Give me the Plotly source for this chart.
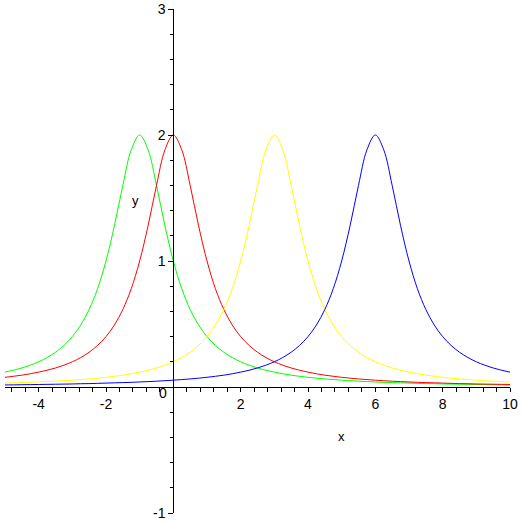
import plotly.graph_objects as go

# sample positions along x (step 0.25 from -5 to 10)
x_vals = [i / 4 for i in range(-20, 41)]

# curve heights at those positions
green_y = [0.118, 0.133, 0.151, 0.173, 0.200, 0.234, 0.276, 0.330, 0.400, 0.492,
           0.615, 0.780, 1.000, 1.280, 1.600, 1.882, 2.000, 1.882, 1.600, 1.280,
           1.000, 0.780, 0.615, 0.492, 0.400, 0.330, 0.276, 0.234, 0.200, 0.173,
           0.151, 0.133, 0.118, 0.105, 0.094, 0.085, 0.077, 0.070, 0.064, 0.059,
           0.054, 0.050, 0.046, 0.043, 0.040, 0.037, 0.035, 0.033, 0.031, 0.029,
           0.027, 0.026, 0.024, 0.023, 0.022, 0.021, 0.020, 0.019, 0.018, 0.017,
           0.016]
red_y = [0.077, 0.085, 0.094, 0.105, 0.118, 0.133, 0.151, 0.173, 0.200, 0.234,
         0.276, 0.330, 0.400, 0.492, 0.615, 0.780, 1.000, 1.280, 1.600, 1.882,
         2.000, 1.882, 1.600, 1.280, 1.000, 0.780, 0.615, 0.492, 0.400, 0.330,
         0.276, 0.234, 0.200, 0.173, 0.151, 0.133, 0.118, 0.105, 0.094, 0.085,
         0.077, 0.070, 0.064, 0.059, 0.054, 0.050, 0.046, 0.043, 0.040, 0.037,
         0.035, 0.033, 0.031, 0.029, 0.027, 0.026, 0.024, 0.023, 0.022, 0.021,
         0.020]
yellow_y = [0.031, 0.033, 0.035, 0.037, 0.040, 0.043, 0.046, 0.050, 0.054, 0.059,
            0.064, 0.070, 0.077, 0.085, 0.094, 0.105, 0.118, 0.133, 0.151, 0.173,
            0.200, 0.234, 0.276, 0.330, 0.400, 0.492, 0.615, 0.780, 1.000, 1.280,
            1.600, 1.882, 2.000, 1.882, 1.600, 1.280, 1.000, 0.780, 0.615, 0.492,
            0.400, 0.330, 0.276, 0.234, 0.200, 0.173, 0.151, 0.133, 0.118, 0.105,
            0.094, 0.085, 0.077, 0.070, 0.064, 0.059, 0.054, 0.050, 0.046, 0.043,
            0.040]
blue_y = [0.016, 0.017, 0.018, 0.019, 0.020, 0.021, 0.022, 0.023, 0.024, 0.026,
          0.027, 0.029, 0.031, 0.033, 0.035, 0.037, 0.040, 0.043, 0.046, 0.050,
          0.054, 0.059, 0.064, 0.070, 0.077, 0.085, 0.094, 0.105, 0.118, 0.133,
          0.151, 0.173, 0.200, 0.234, 0.276, 0.330, 0.400, 0.492, 0.615, 0.780,
          1.000, 1.280, 1.600, 1.882, 2.000, 1.882, 1.600, 1.280, 1.000, 0.780,
          0.615, 0.492, 0.400, 0.330, 0.276, 0.234, 0.200, 0.173, 0.151, 0.133,
          0.118]

x_ticks = [-4, -2, 2, 4, 6, 8, 10]
x_tick_text = ["-4", "-2", "2", "4", "6", "8", "10"]
y_ticks = [-1, 1, 2, 3]
y_tick_text = ["-1", "1", "2", "3"]

series = [
    (green_y, "rgb(0,255,0)"),
    (red_y, "rgb(255,0,0)"),
    (yellow_y, "rgb(255,255,0)"),
    (blue_y, "rgb(0,0,255)"),
]

fig = go.Figure()
for ys, col in series:
    fig.add_trace(go.Scatter(x=x_vals, y=ys, mode="lines",
                             line=dict(color=col, width=1, shape="spline"),
                             showlegend=False, hoverinfo="skip"))

tick_font = dict(family="Liberation Sans, Arial, sans-serif", size=14, color="black")

fig.update_layout(
    width=522, height=522,
    margin=dict(l=5, r=12, t=9, b=9, autoexpand=False),
    paper_bgcolor="white", plot_bgcolor="white",
    xaxis=dict(range=[-5, 10], anchor="free", position=0.25, automargin=False,
               showgrid=False, zeroline=False, showline=True,
               linecolor="black", linewidth=1,
               tickvals=x_ticks, ticktext=x_tick_text,
               ticks="outside", ticklen=4, tickcolor="black",
               tickfont=tick_font,
               minor=dict(tick0=0, dtick=0.4, ticks="outside", ticklen=4,
                          tickcolor="black")),
    yaxis=dict(range=[-1, 3], anchor="free", position=1 / 3, automargin=False,
               showgrid=False, zeroline=False, showline=True,
               linecolor="black", linewidth=1,
               tickvals=y_ticks, ticktext=y_tick_text,
               ticks="outside", ticklen=5, tickcolor="black",
               tickfont=tick_font,
               minor=dict(tick0=0, dtick=0.2, ticks="outside", ticklen=3,
                          tickcolor="black")),
)

lab_font = dict(family="Liberation Sans, Arial, sans-serif", size=13, color="black")
fig.add_annotation(x=5, y=-0.39, text="x", showarrow=False, font=lab_font)
fig.add_annotation(x=-1.13, y=1.48, text="y", showarrow=False, font=lab_font)
fig.add_annotation(x=-0.31, y=-0.05, text="0", showarrow=False, font=tick_font)

# drop the page's default body margin so the figure sits at the window corner
fig.write_html("out.html", config={"displayModeBar": False},
               post_script="document.body.style.margin='0';")
